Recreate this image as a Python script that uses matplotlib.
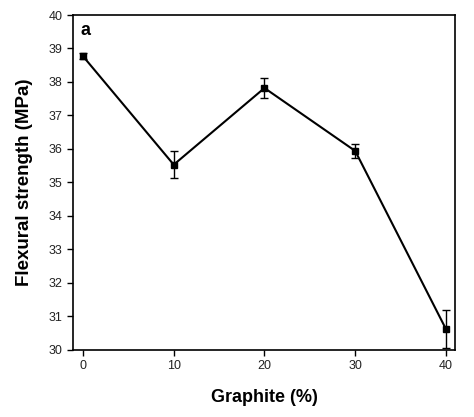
import matplotlib
matplotlib.use("Agg")
import matplotlib.pyplot as plt

# data
graphite = [0, 10, 20, 30, 40]
strength = [38.77, 35.53, 37.82, 35.94, 30.62]
err = [0.09, 0.41, 0.30, 0.22, 0.57]

plt.rcParams['font.family'] = ['Liberation Sans', 'DejaVu Sans']

fig = plt.figure(figsize=(4.74, 4.17), dpi=100)
ax = fig.add_axes([0.154, 0.161, 0.806, 0.803])

ax.errorbar(graphite, strength, yerr=err, color='black', lw=1.5,
            marker='s', ms=5, capsize=3, elinewidth=1, capthick=1)

ax.set_xlim(-1.1, 41)
ax.set_ylim(30, 40)
ax.set_xticks([0, 10, 20, 30, 40])
ax.set_yticks(range(30, 41))
ax.tick_params(direction='out', length=4, width=1, labelsize=9, labelcolor='#222222')
for s in ax.spines.values():
    s.set_linewidth(1.2)

ax.set_xlabel('Graphite (%)', fontsize=13, fontweight='bold', labelpad=12)
ax.set_ylabel('Flexural strength (MPa)', fontsize=13.5, fontweight='bold', labelpad=11)
ax.text(0.02, 0.94, 'a', transform=ax.transAxes, fontsize=13, fontweight='bold')

fig.savefig('out.png', dpi=100)
